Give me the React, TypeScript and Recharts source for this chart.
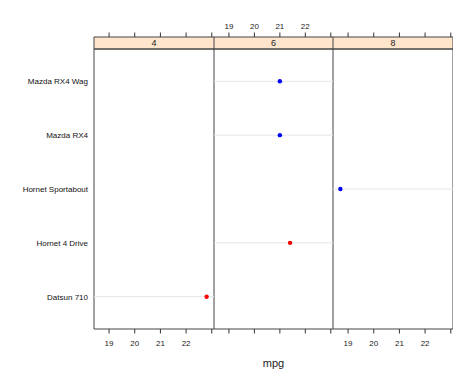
import React from "react";
import {
  ScatterChart,
  Scatter,
  XAxis,
  YAxis,
  ReferenceArea,
  ReferenceLine,
  Cell,
} from "recharts";

const CARS = ["Datsun 710", "Hornet 4 Drive", "Hornet Sportabout", "Mazda RX4", "Mazda RX4 Wag"];
const MPG = [22.8, 21.4, 18.7, 21.0, 21.0];
const CYL = [4, 6, 8, 6, 6];
const VS = [1, 1, 0, 0, 0];
const PANELS = [4, 6, 8];
const TICKS = [19, 20, 21, 22, 23];
const TICK_LABELS = ["19", "20", "21", "22", ""];
const X_DOMAIN: [number, number] = [18.413, 23.087];
const Y_DOMAIN: [number, number] = [0.4, 5.823];
const PANEL_TOP = 5.6;
const COLORS: Record<number, string> = { 1: "#ff0000", 0: "#0000ff" };

const FONT = "'Liberation Sans', Arial, sans-serif";

const layout = [
  { left: 0, width: 206, yAxis: true, labelSide: "bottom" },
  { left: 206, width: 119, yAxis: false, labelSide: "top" },
  { left: 325, width: 120, yAxis: false, labelSide: "bottom" },
];

const YTick = (props: any) => {
  const { x, y, payload } = props;
  const label = CARS[payload.value - 1] ?? "";
  return (
    <text x={x} y={y} dy={3} textAnchor="end" fontSize={8} fill="#111" fontFamily={FONT}>
      {label}
    </text>
  );
};

function Panel({ idx }: { idx: number }) {
  const cyl = PANELS[idx];
  const cfg = layout[idx];
  const data = CARS.map((name, i) => ({ name, x: MPG[i], y: i + 1, vs: VS[i], cyl: CYL[i] })).filter(
    (d) => d.cyl === cyl
  );
  const fmt = (side: string) => (v: number) => {
    if (cfg.labelSide !== side) return "";
    const k = TICKS.indexOf(v);
    return k >= 0 ? TICK_LABELS[k] : "";
  };
  return (
    <div style={{ position: "absolute", left: cfg.left, top: 0 }}>
      <ScatterChart
        width={cfg.width}
        height={362}
        margin={{ top: 0, right: 0, bottom: 0, left: 0 }}
        style={{ overflow: "visible", fontFamily: FONT }}
      >
        <XAxis
          xAxisId="t"
          orientation="top"
          type="number"
          dataKey="x"
          domain={X_DOMAIN}
          allowDataOverflow
          ticks={TICKS}
          interval={0}
          height={29}
          axisLine={false}
          tickSize={4.5}
          tickMargin={4}
          tickLine={{ stroke: "#333" }}
          tick={{ fontSize: 8, fill: "#222" }}
          tickFormatter={fmt("top")}
        />
        <XAxis
          xAxisId="b"
          orientation="bottom"
          type="number"
          dataKey="x"
          domain={X_DOMAIN}
          allowDataOverflow
          ticks={TICKS}
          interval={0}
          height={41}
          axisLine={false}
          tickSize={4.5}
          tickMargin={7}
          tickLine={{ stroke: "#333" }}
          tick={{ fontSize: 8, fill: "#222" }}
          tickFormatter={fmt("bottom")}
          label={
            idx === 1
              ? { value: "mpg", position: "insideBottom", offset: 3, fontSize: 11, fill: "#222" }
              : undefined
          }
        />
        <YAxis
          yAxisId="y"
          type="number"
          dataKey="y"
          domain={Y_DOMAIN}
          allowDataOverflow
          ticks={[1, 2, 3, 4, 5]}
          interval={0}
          width={cfg.yAxis ? 86 : 0}
          hide={!cfg.yAxis}
          axisLine={false}
          tickLine={false}
          tickSize={0}
          tickMargin={6}
          tick={<YTick />}
        />
        {data.map((d) => (
          <ReferenceLine
            key={d.name}
            xAxisId="b"
            yAxisId="y"
            y={d.y}
            stroke="#e6e6e6"
            strokeWidth={1}
            ifOverflow="visible"
          />
        ))}
        <ReferenceArea
          xAxisId="t"
          yAxisId="y"
          x1={X_DOMAIN[0]}
          x2={X_DOMAIN[1]}
          y1={PANEL_TOP}
          y2={Y_DOMAIN[1]}
          fill="#ffe5cc"
          fillOpacity={1}
          stroke="#444"
          strokeWidth={1}
          ifOverflow="visible"
          label={{ value: String(cyl), position: "center", fontSize: 9, fill: "#222" }}
        />
        <ReferenceArea
          xAxisId="b"
          yAxisId="y"
          x1={X_DOMAIN[0]}
          x2={X_DOMAIN[1]}
          y1={Y_DOMAIN[0]}
          y2={PANEL_TOP}
          fill="none"
          stroke="#444"
          strokeWidth={1}
          ifOverflow="visible"
        />
        <Scatter
          xAxisId="t"
          yAxisId="y"
          data={data}
          isAnimationActive={false}
          shape={() => <g />}
        />
        <Scatter
          xAxisId="b"
          yAxisId="y"
          data={data}
          isAnimationActive={false}
          shape={(p: any) => <circle cx={p.cx} cy={p.cy} r={2.2} fill={p.fill} />}
        >
          {data.map((d) => (
            <Cell key={d.name} fill={COLORS[d.vs]} />
          ))}
        </Scatter>
      </ScatterChart>
    </div>
  );
}

export default function App() {
  return (
    <div style={{ position: "relative", width: 458, height: 362, fontFamily: FONT }}>
      {PANELS.map((_, i) => (
        <Panel key={i} idx={i} />
      ))}
    </div>
  );
}
